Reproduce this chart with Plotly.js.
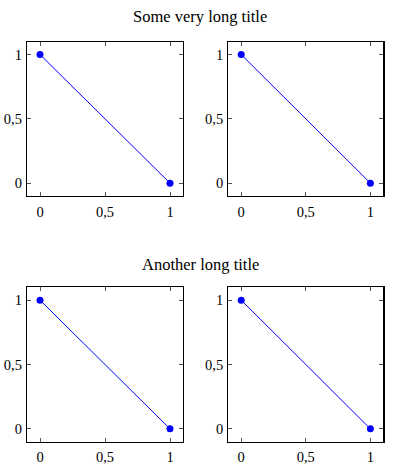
<!DOCTYPE html>
<html>
<head>
<meta charset="utf-8">
<script src="https://cdn.plot.ly/plotly-3.0.1.min.js"></script>
<style>html,body{margin:0;padding:0;background:#fff}#chart{width:399px;height:466px}</style>
</head>
<body>
<div id="chart"></div>
<script>
// Data
const xValues = [0, 1];
const yValues = [1, 0];
const tickVals = [0, 0.5, 1];
const tickLabels = ["0", "0,5", "1"];
const groupTitles = ["Some very long title", "Another long title"];

const FONT = "'Liberation Serif', 'Times New Roman', serif";

const traces = [];
const axisIds = ["", "2", "3", "4"];
axisIds.forEach(function(id) {
  traces.push({
    x: xValues, y: yValues,
    xaxis: "x" + id, yaxis: "y" + id,
    mode: "lines+markers",
    line: {color: "#0000ff", width: 1},
    marker: {color: "#0000ff", size: 7},
    showlegend: false,
    hoverinfo: "none"
  });
});

const xDomains = [[27/399, 183/399], [228.3/399, 383.3/399]];
const yDomains = [[1 - 196/466, 1 - 41.7/466], [1 - 441.7/466, 1 - 287.3/466]];

function axis(domain, anchor, isX) {
  return {
    domain: domain, anchor: anchor,
    range: [-0.1, 1.1],
    tickvals: tickVals, ticktext: tickLabels,
    ticks: "inside", ticklen: 4, tickwidth: 1, tickcolor: "#555",
    showline: true, linecolor: "#000", linewidth: 1.2, mirror: "ticks",
    showgrid: false, zeroline: false,
    ticklabelstandoff: isX ? 2 : 1,
    tickfont: {family: FONT, size: 14.5, color: "#000"},
    fixedrange: true
  };
}

const layout = {
  width: 399, height: 466,
  margin: {l: 0, r: 0, t: 0, b: 0},
  paper_bgcolor: "#fff", plot_bgcolor: "#fff",
  font: {family: FONT, color: "#000"},
  xaxis:  axis(xDomains[0], "y", true),
  yaxis:  axis(yDomains[0], "x", false),
  xaxis2: axis(xDomains[1], "y2", true),
  yaxis2: axis(yDomains[0], "x2", false),
  xaxis3: axis(xDomains[0], "y3", true),
  yaxis3: axis(yDomains[1], "x3", false),
  xaxis4: axis(xDomains[1], "y4", true),
  yaxis4: axis(yDomains[1], "x4", false),
  annotations: [
    {text: groupTitles[0], xref: "paper", yref: "paper", x: 200/399, y: 1 - 17/466,
     xanchor: "center", yanchor: "middle", showarrow: false,
     font: {family: FONT, size: 16.5, color: "#000"}},
    {text: groupTitles[1], xref: "paper", yref: "paper", x: 200/399, y: 1 - 264/466,
     xanchor: "center", yanchor: "middle", showarrow: false,
     font: {family: FONT, size: 16.5, color: "#000"}}
  ]
};

Plotly.newPlot("chart", traces, layout, {displayModeBar: false, staticPlot: true});
</script>
</body>
</html>
